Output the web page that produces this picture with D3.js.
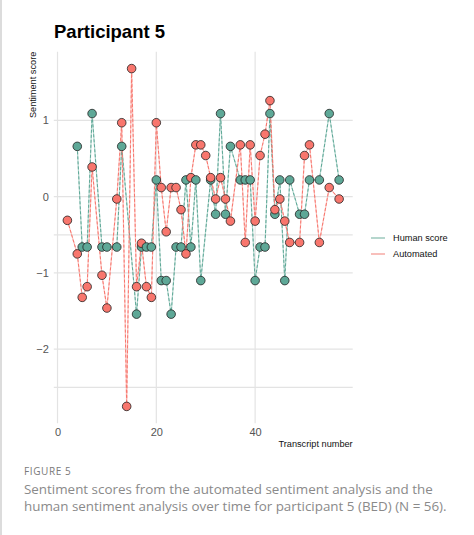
<!DOCTYPE html>
<html>
<head>
<meta charset="utf-8">
<script src="https://cdn.jsdelivr.net/npm/d3@7"></script>
<style>
  html, body { margin: 0; padding: 0; background: #fff; }
  svg { display: block; }
</style>
</head>
<body>
<script>
// ---- data ----
const humanX = [4,5,6,7,9,10,12,13,16,17,18,19,20,21,22,23,24,25,26,27,28,29,31,32,33,34,35,37,38,39,40,41,42,43,44,45,46,47,49,50,51,53,55,57];
const humanY = [0.66,-0.66,-0.66,1.09,-0.66,-0.66,-0.66,0.66,-1.54,-0.66,-0.66,-0.66,0.22,-1.10,-1.10,-1.54,-0.66,-0.66,0.22,-0.66,0.22,-1.10,0.22,-0.23,1.09,-0.23,0.66,0.22,0.22,0.22,-1.10,-0.66,-0.66,1.09,-0.23,0.22,-1.10,0.22,-0.23,-0.23,0.22,0.22,1.09,0.22];
const autoX = [2,4,5,6,7,9,10,12,13,14,15,16,17,18,19,20,21,22,23,24,25,26,27,28,29,30,31,32,33,34,35,37,38,39,40,41,42,43,44,45,46,47,49,50,51,53,55,57];
const autoY = [-0.31,-0.75,-1.32,-1.18,0.39,-1.03,-1.46,-0.03,0.97,-2.75,1.68,-1.18,-0.61,-1.18,-1.32,0.97,0.12,-0.46,0.12,0.12,-0.17,-0.75,0.25,0.68,0.68,0.54,0.25,-0.03,0.25,-0.03,-0.32,0.68,-0.60,0.68,-0.32,0.54,0.82,1.26,-0.17,-0.03,-0.32,-0.60,-0.60,0.54,0.68,-0.60,0.12,-0.03];
const seriesNames = ["Human score", "Automated"];
const xTicks = [0, 20, 40];
const yTicks = [1, 0, -1, -2];
const yMinorGrid = [-0.5, -2.5];
const titleText = "Participant 5";
const yTitle = "Sentiment score";
const xTitle = "Transcript number";
const figLabel = "FIGURE 5";
const captionLines = [
  "Sentiment scores from the automated sentiment analysis and the",
  "human sentiment analysis over time for participant 5 (BED) (N = 56)."
];

// ---- layout ----
const W = 474, H = 535;
const panel = { left: 53.8, right: 352.7, top: 51.7, bottom: 423.3 };
const colors = { human: "#5ea897", auto: "#f8766d", humanPale: "#9cc9bd", autoPale: "#f6aaa4" };

const svg = d3.select("body").append("svg").attr("width", W).attr("height", H);

// left border bar
svg.append("rect").attr("x", 0).attr("y", 0).attr("width", 2).attr("height", H).attr("fill", "#dcdcdc");

const human = humanX.map((x, i) => ({ x, y: humanY[i], s: "human" }));
const auto = autoX.map((x, i) => ({ x, y: autoY[i], s: "auto" }));
const all = human.concat(auto);

const xExt = d3.extent(all, d => d.x), yExt = d3.extent(all, d => d.y);
const xPad = (xExt[1] - xExt[0]) * 0.05, yPad = (yExt[1] - yExt[0]) * 0.05;
const x = d3.scaleLinear().domain([xExt[0] - xPad, xExt[1] + xPad]).range([panel.left, panel.right]);
const y = d3.scaleLinear().domain([yExt[0] - yPad, yExt[1] + yPad]).range([panel.bottom, panel.top]);

// grid
const grid = svg.append("g");
grid.selectAll("line.hg").data(yTicks.concat(yMinorGrid)).join("line")
  .attr("x1", panel.left).attr("x2", panel.right)
  .attr("y1", d => y(d)).attr("y2", d => y(d))
  .attr("stroke", "#e3e3e3").attr("stroke-width", 1.2);
grid.selectAll("line.vg").data(xTicks).join("line")
  .attr("x1", d => x(d)).attr("x2", d => x(d))
  .attr("y1", panel.top).attr("y2", panel.bottom)
  .attr("stroke", "#e3e3e3").attr("stroke-width", 1.2);

// axes (labels only)
const yAxis = svg.append("g").attr("transform", `translate(${panel.left - 3},0)`)
  .call(d3.axisLeft(y).tickValues(yTicks).tickSize(0).tickPadding(2).tickFormat(d3.format("d")));
yAxis.select(".domain").remove();
yAxis.selectAll("text").attr("font-family", "Liberation Sans, Arial, sans-serif").attr("font-size", 11).attr("fill", "#555");

const xAxis = svg.append("g").attr("transform", `translate(0,${panel.bottom + 2})`)
  .call(d3.axisBottom(x).tickValues(xTicks).tickSize(0).tickPadding(3).tickFormat(d3.format("d")));
xAxis.select(".domain").remove();
xAxis.selectAll("text").attr("font-family", "Liberation Sans, Arial, sans-serif").attr("font-size", 11).attr("fill", "#555");

// lines
const line = d3.line().x(d => x(d.x)).y(d => y(d.y));
[[human, colors.human], [auto, colors.auto]].forEach(([data, c]) => {
  svg.append("path").datum(data).attr("d", line).attr("fill", "none")
    .attr("stroke", c).attr("stroke-opacity", 0.45).attr("stroke-width", 1.2);
  svg.append("path").datum(data).attr("d", line).attr("fill", "none")
    .attr("stroke", c).attr("stroke-width", 1).attr("stroke-dasharray", "3,2");
});

// points: ordered by x, human then automated
const ordered = all.slice().sort((a, b) => a.x - b.x || (a.s === "human" ? -1 : 1));
svg.append("g").selectAll("circle").data(ordered).join("circle")
  .attr("cx", d => x(d.x)).attr("cy", d => y(d.y)).attr("r", 4.3)
  .attr("fill", d => d.s === "human" ? colors.human : colors.auto)
  .attr("stroke", "#222").attr("stroke-width", 0.8);

// title
svg.append("text").attr("x", 54).attr("y", 38).text(titleText)
  .attr("font-family", "Liberation Sans, Arial, sans-serif").attr("font-weight", "bold").attr("font-size", 18.5).attr("fill", "#000");

// axis titles
svg.append("text").attr("transform", `translate(36,${panel.top}) rotate(-90)`)
  .attr("text-anchor", "end").text(yTitle)
  .attr("font-family", "Liberation Sans, Arial, sans-serif").attr("font-size", 9.2).attr("fill", "#111");
svg.append("text").attr("x", panel.right).attr("y", 447).attr("text-anchor", "end").text(xTitle)
  .attr("font-family", "Liberation Sans, Arial, sans-serif").attr("font-size", 9.2).attr("fill", "#111");

// legend
const leg = svg.append("g");
[[seriesNames[0], colors.humanPale, 238], [seriesNames[1], colors.autoPale, 254]].forEach(([t, c, ly]) => {
  leg.append("line").attr("x1", 371).attr("x2", 385).attr("y1", ly).attr("y2", ly).attr("stroke", c).attr("stroke-width", 1.5);
  leg.append("text").attr("x", 393).attr("y", ly + 3.3).text(t)
    .attr("font-family", "Liberation Sans, Arial, sans-serif").attr("font-size", 9.2).attr("fill", "#111");
});

// caption
svg.append("text").attr("x", 24).attr("y", 475).text(figLabel)
  .attr("font-family", "Open Sans, sans-serif").attr("font-size", 10).attr("letter-spacing", 0.6).attr("fill", "#7a7a7a");
captionLines.forEach((t, i) => {
  svg.append("text").attr("x", 24).attr("y", 494 + i * 17).text(t)
    .attr("font-family", "Open Sans, sans-serif").attr("font-size", 13.4).attr("fill", "#8a8a8a");
});
</script>
</body>
</html>
